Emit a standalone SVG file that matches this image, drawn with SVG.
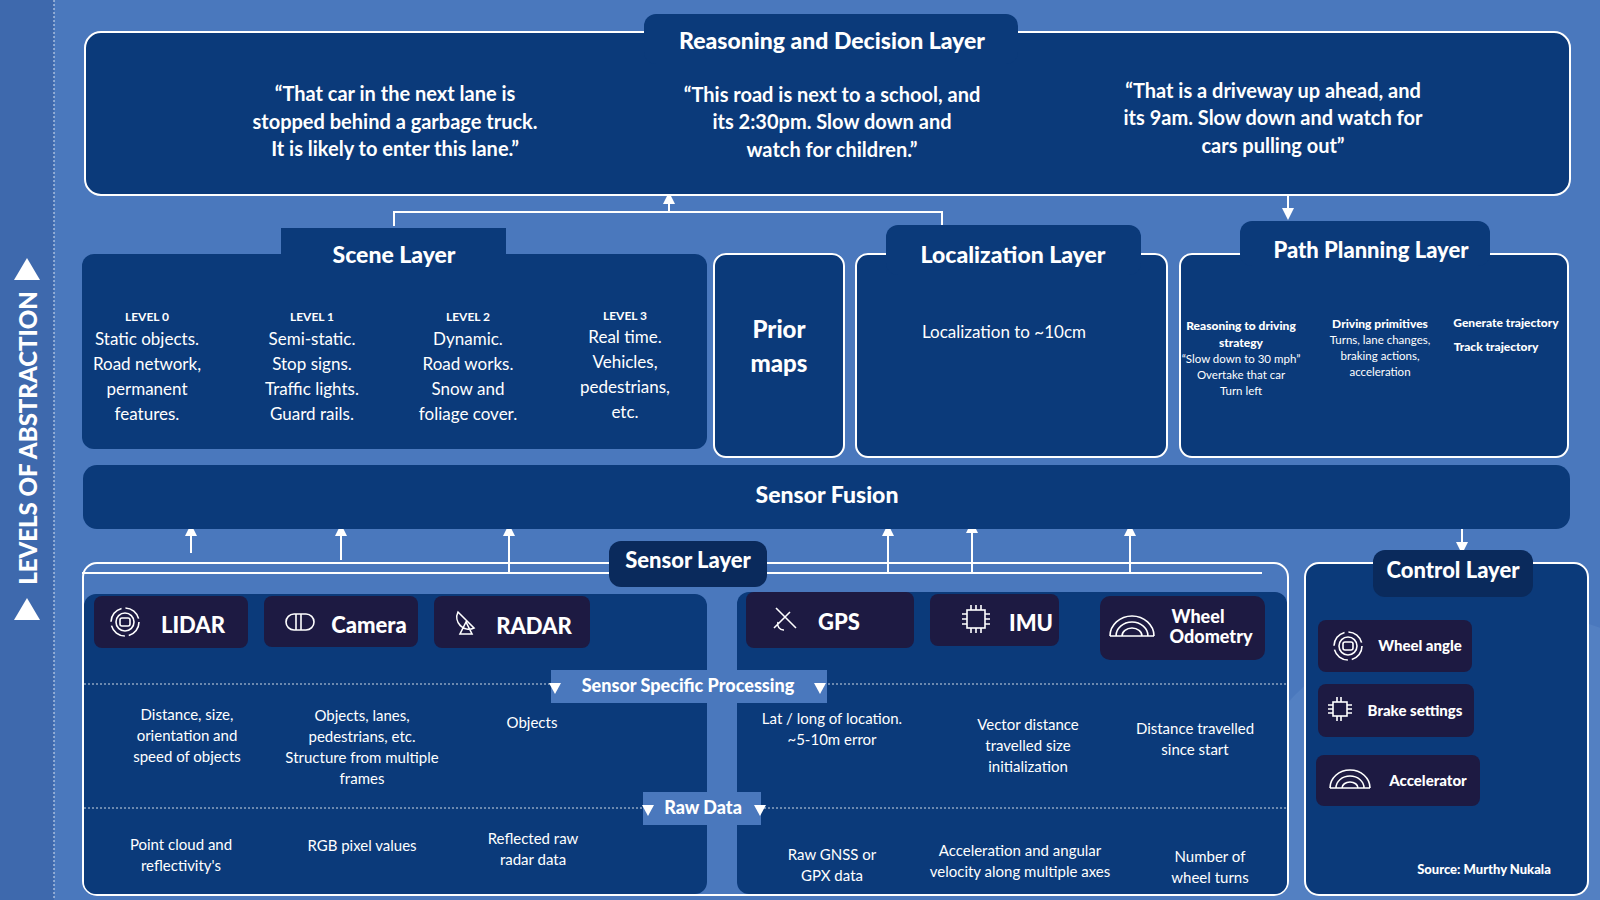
<svg xmlns="http://www.w3.org/2000/svg" width="1600" height="900" viewBox="0 0 1600 900">
<defs>
<style>
text{font-family:Lato,"Open Sans","Noto Sans",sans-serif;fill:#fff;text-anchor:middle}
.b{font-weight:700}
.h{font-weight:900}
.panel{fill:#0b3a7a}
.frame{fill:#0b3a7a;stroke:#fff;stroke-width:2}
.chip{fill:#1d1a42}
.tab{fill:#0b3a7a}
.ln{stroke:#fff;stroke-width:2;fill:none}
.dot{stroke:#fff;stroke-width:1;stroke-dasharray:2 2;opacity:.8}
.t{font-size:17px}
.s{font-size:15px}
.ic{stroke:#fff;stroke-width:1.6;fill:none}
</style>
<marker id="ah" viewBox="0 0 10 10" refX="5" refY="5" markerWidth="6" markerHeight="6" orient="auto-start-reverse"><path d="M0,0 L10,5 L0,10 z" fill="#fff"/></marker>
</defs>
<rect width="1600" height="900" fill="#4a78bd"/>
<circle cx="1500" cy="900" r="290" fill="#5b88c8" opacity=".5"/>
<rect width="54" height="900" fill="#3e69ad"/>
<line x1="54" y1="0" x2="54" y2="900" class="dot"/>
<g id="abstraction">
<polygon points="14,280 27,258 40,280" fill="#fff"/>
<polygon points="14,620 27,598 40,620" fill="#fff"/>
<text transform="translate(37,438) rotate(-90)" class="h" font-size="24">LEVELS OF ABSTRACTION</text>
</g>
<g id="connectors">
<polyline class="ln" points="394,226 394,212 942,212 942,226"/>
<line class="ln" x1="669" y1="212" x2="669" y2="198" marker-end="url(#ah)"/>
<line class="ln" x1="1288" y1="194" x2="1288" y2="214" marker-end="url(#ah)"/>
<line class="ln" x1="82" y1="573" x2="1262" y2="573"/>
<line class="ln" x1="191" y1="553" x2="191" y2="530" marker-end="url(#ah)"/>
<line class="ln" x1="341" y1="560" x2="341" y2="530" marker-end="url(#ah)"/>
<line class="ln" x1="509" y1="573" x2="509" y2="530" marker-end="url(#ah)"/>
<line class="ln" x1="888" y1="573" x2="888" y2="530" marker-end="url(#ah)"/>
<line class="ln" x1="972" y1="573" x2="972" y2="527" marker-end="url(#ah)"/>
<line class="ln" x1="1130" y1="573" x2="1130" y2="530" marker-end="url(#ah)"/>
<line class="ln" x1="1462" y1="526" x2="1462" y2="548" marker-end="url(#ah)"/>
</g>
<g id="reasoning">
<rect x="85" y="32" width="1485" height="163" rx="16" class="frame"/>
<rect x="644" y="14" width="374" height="50" rx="12" class="tab"/>
<text x="832" y="49" class="h" font-size="23">Reasoning and Decision Layer</text>
<text x="395" y="101" class="b" font-size="20">“That car in the next lane is</text>
<text x="395" y="129" class="b" font-size="20">stopped behind a garbage truck.</text>
<text x="395" y="156" class="b" font-size="20">It is likely to enter this lane.”</text>
<text x="832" y="102" class="b" font-size="20">“This road is next to a school, and</text>
<text x="832" y="129" class="b" font-size="20">its 2:30pm. Slow down and</text>
<text x="832" y="157" class="b" font-size="20">watch for children.”</text>
<text x="1273" y="98" class="b" font-size="20">“That is a driveway up ahead, and</text>
<text x="1273" y="125" class="b" font-size="20">its 9am. Slow down and watch for</text>
<text x="1273" y="153" class="b" font-size="20">cars pulling out”</text>
</g>
<g id="scene">
<rect x="82" y="254" width="625" height="195" rx="12" class="panel"/>
<rect x="281" y="228" width="225" height="40" class="panel"/>
<text x="394" y="263" class="h" font-size="23">Scene Layer</text>
<g class="t">
<text x="147" y="321" class="b" font-size="12">LEVEL 0</text>
<text x="147" y="345">Static objects.</text><text x="147" y="370">Road network,</text><text x="147" y="395">permanent</text><text x="147" y="420">features.</text>
<text x="312" y="321" class="b" font-size="12">LEVEL 1</text>
<text x="312" y="345">Semi-static.</text><text x="312" y="370">Stop signs.</text><text x="312" y="395">Traffic lights.</text><text x="312" y="420">Guard rails.</text>
<text x="468" y="321" class="b" font-size="12">LEVEL 2</text>
<text x="468" y="345">Dynamic.</text><text x="468" y="370">Road works.</text><text x="468" y="395">Snow and</text><text x="468" y="420">foliage cover.</text>
<text x="625" y="320" class="b" font-size="12">LEVEL 3</text>
<text x="625" y="343">Real time.</text><text x="625" y="368">Vehicles,</text><text x="625" y="393">pedestrians,</text><text x="625" y="418">etc.</text>
</g>
</g>
<g id="prior">
<rect x="714" y="254" width="130" height="203" rx="12" class="frame"/>
<text x="779" y="338" class="h" font-size="24">Prior</text>
<text x="779" y="372" class="h" font-size="24">maps</text>
</g>
<g id="localization">
<rect x="856" y="254" width="311" height="203" rx="12" class="frame"/>
<rect x="886" y="225" width="255" height="50" rx="12" class="tab"/>
<text x="1013" y="263" class="h" font-size="23">Localization Layer</text>
<text x="1004" y="338" font-size="17">Localization to ~10cm</text>
</g>
<g id="pathplanning">
<rect x="1180" y="254" width="388" height="203" rx="12" class="frame"/>
<rect x="1240" y="221" width="250" height="45" rx="12" class="tab"/>
<text x="1371" y="258" class="h" font-size="22">Path Planning Layer</text>
<text x="1241" y="330" class="h" font-size="12">Reasoning to driving</text>
<text x="1241" y="347" class="h" font-size="12">strategy</text>
<text x="1241" y="363" font-size="11.5">“Slow down to 30 mph”</text>
<text x="1241" y="379" font-size="11.5">Overtake that car</text>
<text x="1241" y="395" font-size="11.5">Turn left</text>
<text x="1380" y="328" class="h" font-size="12">Driving primitives</text>
<text x="1380" y="344" font-size="11.5">Turns, lane changes,</text>
<text x="1380" y="360" font-size="11.5">braking actions,</text>
<text x="1380" y="376" font-size="11.5">acceleration</text>
<text x="1506" y="327" class="h" font-size="12">Generate trajectory</text>
<text x="1496" y="351" class="h" font-size="12">Track trajectory</text>
</g>
<g id="fusion">
<rect x="83" y="465" width="1487" height="64" rx="14" class="panel"/>
<text x="827" y="503" class="h" font-size="23">Sensor Fusion</text>
</g>
<g id="sensor">
<rect x="83" y="563" width="1205" height="332" rx="14" fill="none" stroke="#fff" stroke-width="2"/>
<rect x="84" y="594" width="623" height="300" rx="12" class="panel"/>
<rect x="737" y="592" width="550" height="302" rx="12" class="panel"/>
<rect x="609" y="541" width="158" height="46" rx="12" fill="#0a2a5c"/>
<text x="688" y="568" class="h" font-size="22">Sensor Layer</text>
<line x1="84" y1="684" x2="1287" y2="684" class="dot"/>
<line x1="84" y1="808" x2="1287" y2="808" class="dot"/>
<rect x="551" y="670" width="276" height="33" fill="#4a78bd"/>
<text x="688" y="692" class="h" font-size="18">Sensor Specific Processing</text>
<polygon points="549,683 561,683 555,694" fill="#fff"/><polygon points="814,683 826,683 820,694" fill="#fff"/>
<rect x="643" y="792" width="118" height="33" fill="#4a78bd"/>
<text x="703" y="814" class="h" font-size="18">Raw Data</text>
<polygon points="642,805 654,805 648,816" fill="#fff"/><polygon points="754,805 766,805 760,816" fill="#fff"/>
<g id="lidar"><rect x="94" y="596" width="154" height="52" rx="8" class="chip"/>
<circle cx="125" cy="622" r="14" class="ic" stroke-dasharray="18 4"/><circle cx="125" cy="622" r="9" class="ic"/><rect x="120" y="618" width="10" height="8" rx="2" class="ic"/>
<text x="193" y="633" class="h" font-size="22">LIDAR</text></g>
<g id="camera"><rect x="264" y="596" width="154" height="51" rx="8" class="chip"/>
<rect x="286" y="614" width="28" height="16" rx="8" class="ic"/><line x1="296" y1="614" x2="296" y2="630" class="ic"/><line x1="301" y1="614" x2="301" y2="630" class="ic"/>
<text x="369" y="633" class="h" font-size="22">Camera</text></g>
<g id="radar"><rect x="434" y="596" width="156" height="52" rx="8" class="chip"/>
<path d="M458,612 a12,12 0 0 0 16,16 z M466,622 l-6,12 h12 z" class="ic"/>
<text x="534" y="634" class="h" font-size="22">RADAR</text></g>
<g id="gps"><rect x="746" y="592" width="168" height="56" rx="8" class="chip"/>
<path d="M776,608 l20,20 M790,612 l-16,16 M778,622 a6,6 0 0 0 6,8" class="ic"/>
<text x="839" y="630" class="h" font-size="22">GPS</text></g>
<g id="imu"><rect x="930" y="594" width="129" height="52" rx="8" class="chip"/>
<rect x="967" y="610" width="18" height="18" class="ic"/><path d="M962,614h5M962,619h5M962,624h5M985,614h5M985,619h5M985,624h5M971,605v5M976,605v5M981,605v5M971,628v5M976,628v5M981,628v5" class="ic"/>
<text x="1031" y="631" class="h" font-size="22">IMU</text></g>
<g id="odometry"><rect x="1100" y="596" width="165" height="64" rx="10" class="chip"/>
<path d="M1110,636 a22,20 0 0 1 44,0 M1116,636 a16,14 0 0 1 32,0 M1122,636 a10,8 0 0 1 20,0 M1110,636 h44" class="ic"/>
<text x="1198" y="623" class="h" font-size="18">Wheel</text><text x="1211" y="643" class="h" font-size="18">Odometry</text></g>
<g class="s">
<text x="187" y="720">Distance, size,</text><text x="187" y="741">orientation and</text><text x="187" y="762">speed of objects</text>
<text x="362" y="721">Objects, lanes,</text><text x="362" y="742">pedestrians, etc.</text><text x="362" y="763">Structure from multiple</text><text x="362" y="784">frames</text>
<text x="532" y="728">Objects</text>
<text x="832" y="724">Lat / long of location.</text><text x="832" y="745">~5-10m error</text>
<text x="1028" y="730">Vector distance</text><text x="1028" y="751">travelled size</text><text x="1028" y="772">initialization</text>
<text x="1195" y="734">Distance travelled</text><text x="1195" y="755">since start</text>
<text x="181" y="850">Point cloud and</text><text x="181" y="871">reflectivity's</text>
<text x="362" y="851">RGB pixel values</text>
<text x="533" y="844">Reflected raw</text><text x="533" y="865">radar data</text>
<text x="832" y="860">Raw GNSS or</text><text x="832" y="881">GPX data</text>
<text x="1020" y="856">Acceleration and angular</text><text x="1020" y="877">velocity along multiple axes</text>
<text x="1210" y="862">Number of</text><text x="1210" y="883">wheel turns</text>
</g>
</g>
<g id="control">
<rect x="1305" y="563" width="283" height="332" rx="14" class="frame"/>
<rect x="1373" y="550" width="160" height="47" rx="12" fill="#0a2a5c"/>
<text x="1453" y="578" class="h" font-size="22">Control Layer</text>
<g id="wheel"><rect x="1318" y="620" width="154" height="52" rx="8" class="chip"/>
<circle cx="1348" cy="646" r="14" class="ic" stroke-dasharray="18 4"/><circle cx="1348" cy="646" r="9" class="ic"/><rect x="1343" y="642" width="10" height="8" rx="2" class="ic"/>
<text x="1420" y="651" class="h" font-size="15">Wheel angle</text></g>
<g id="brake"><rect x="1318" y="684" width="156" height="53" rx="8" class="chip"/>
<rect x="1333" y="702" width="14" height="14" class="ic"/><path d="M1328,705h5M1328,709h5M1328,713h5M1347,705h5M1347,709h5M1347,713h5M1337,697v5M1341,697v5M1337,716v5M1341,716v5" class="ic"/>
<text x="1415" y="716" class="h" font-size="15">Brake settings</text></g>
<g id="accel"><rect x="1316" y="755" width="164" height="51" rx="8" class="chip"/>
<path d="M1330,788 a20,18 0 0 1 40,0 M1336,788 a14,12 0 0 1 28,0 M1342,788 a8,6 0 0 1 16,0 M1330,788 h40" class="ic"/>
<text x="1428" y="786" class="h" font-size="15">Accelerator</text></g>
<text x="1484" y="874" class="h" font-size="13">Source: Murthy Nukala</text>
</g>
</svg>
